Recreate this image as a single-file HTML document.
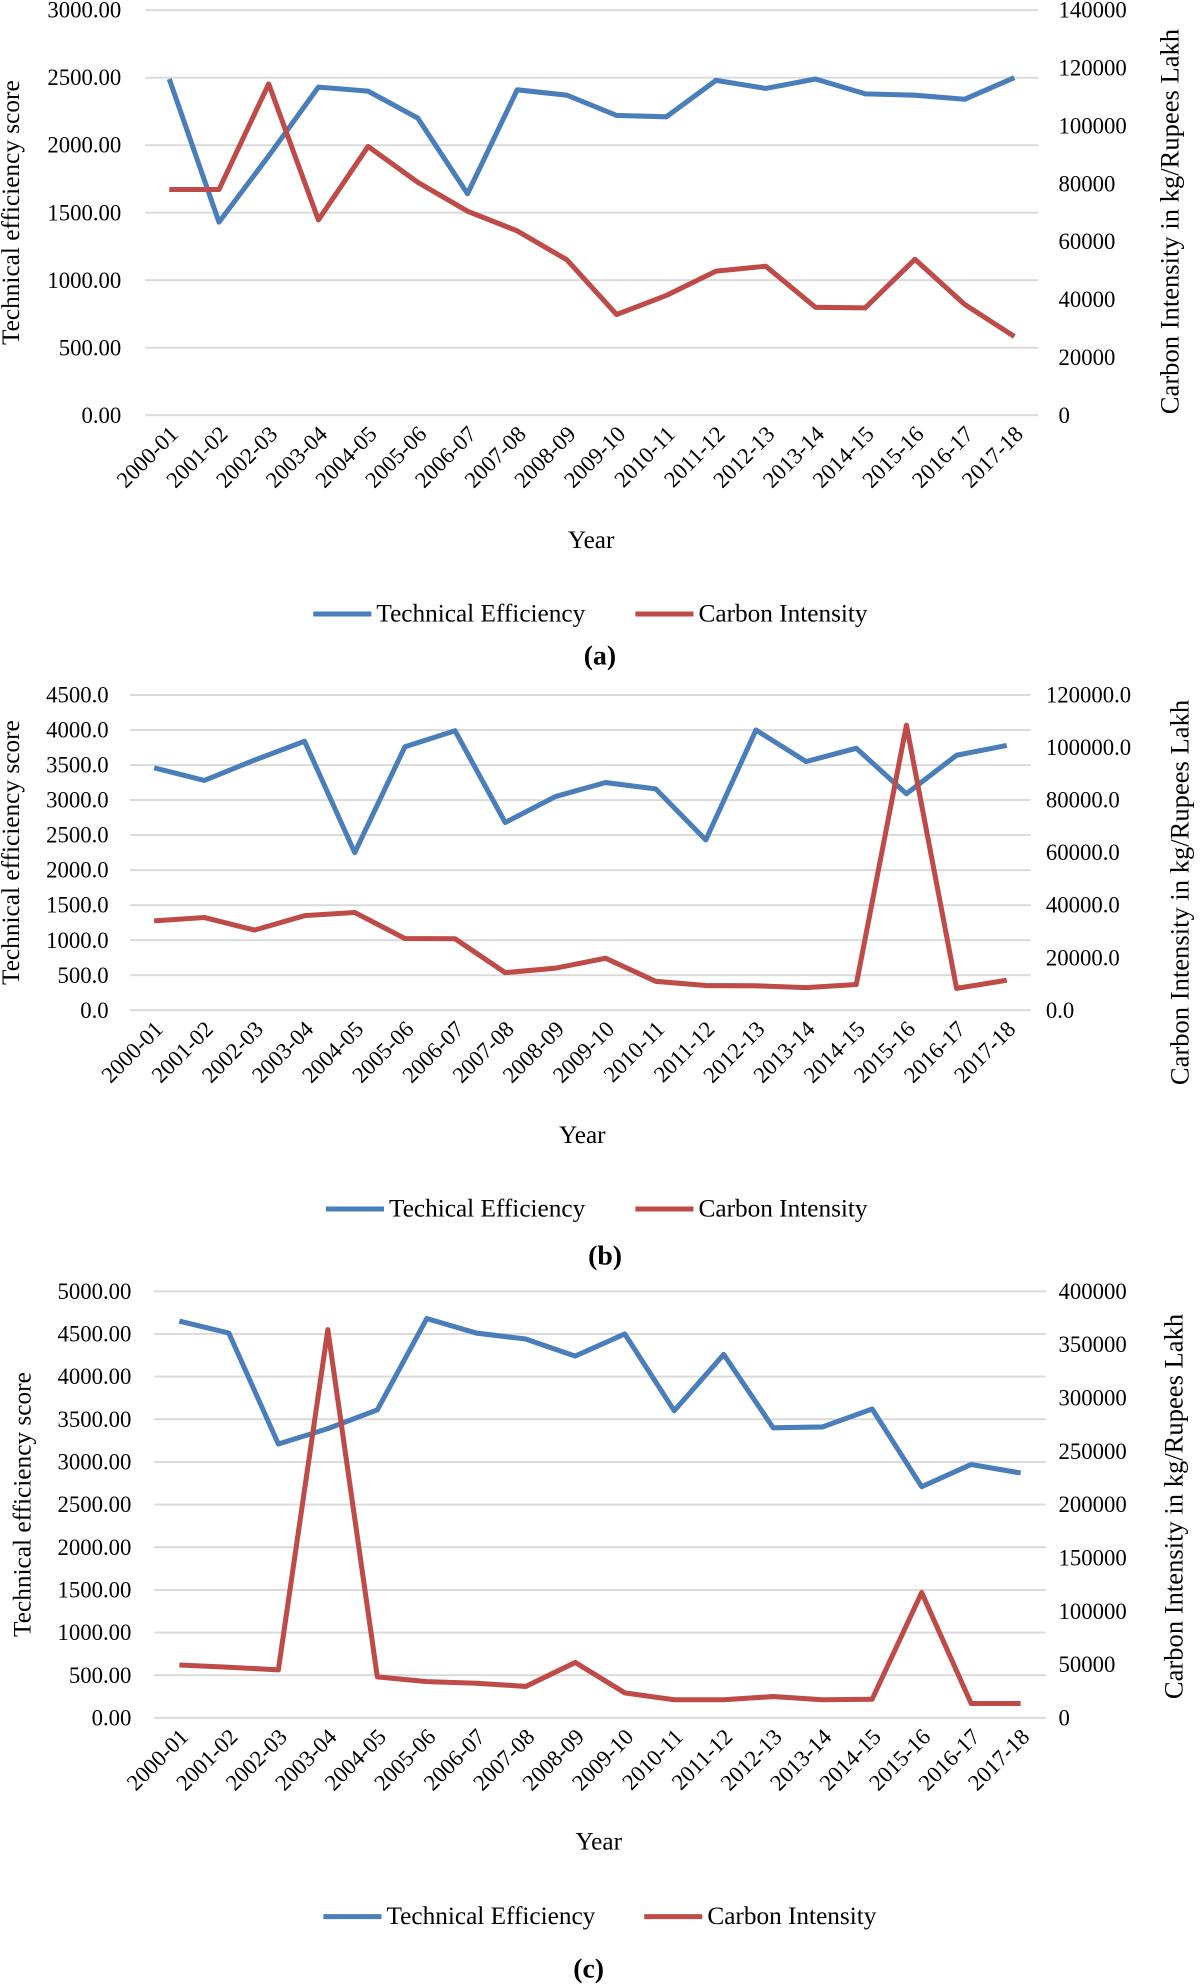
<!DOCTYPE html>
<html><head><meta charset="utf-8"><style>
html,body{margin:0;padding:0;background:#fff;}
svg{display:block;}
text{font-family:"Liberation Serif",serif;fill:#000;}
</style></head><body>
<svg id="fig" width="1200" height="1985" viewBox="0 0 950 1568" preserveAspectRatio="none" xmlns="http://www.w3.org/2000/svg"></svg>
<script>
const years = ["2000-01","2001-02","2002-03","2003-04","2004-05","2005-06","2006-07","2007-08","2008-09","2009-10","2010-11","2011-12","2012-13","2013-14","2014-15","2015-16","2016-17","2017-18"];
const teA = [2490,1430,1920,2430,2400,2200,1640,2410,2370,2220,2210,2480,2420,2490,2380,2370,2340,2500];
const ciA = [78000,78000,114500,67500,92900,80500,70500,63700,53700,34800,41400,49800,51500,37300,37100,53900,38300,27200];
const teB = [3460,3280,3570,3840,2250,3760,3990,2680,3050,3250,3160,2430,4000,3550,3740,3090,3640,3780];
const ciB = [34000,35300,30500,36000,37200,27300,27200,14300,16000,19800,11000,9400,9300,8600,9800,108500,8300,11400];
const teC = [4650,4510,3210,3390,3610,4680,4510,4440,4240,4500,3600,4260,3400,3410,3620,2710,2970,2870];
const ciC = [49600,47500,45000,364000,38500,34000,32500,29500,52000,23500,17000,17000,20000,17000,17500,117500,13500,13500];
const ticksLA = ["0.00","500.00","1000.00","1500.00","2000.00","2500.00","3000.00"];
const ticksRA = ["0","20000","40000","60000","80000","100000","120000","140000"];
const ticksLB = ["0.0","500.0","1000.0","1500.0","2000.0","2500.0","3000.0","3500.0","4000.0","4500.0"];
const ticksRB = ["0.0","20000.0","40000.0","60000.0","80000.0","100000.0","120000.0"];
const ticksLC = ["0.00","500.00","1000.00","1500.00","2000.00","2500.00","3000.00","3500.00","4000.00","4500.00","5000.00"];
const ticksRC = ["0","50000","100000","150000","200000","250000","300000","350000","400000"];

const NS="http://www.w3.org/2000/svg";
const svg=document.getElementById('fig');
function mk(tag,attrs,parent){const e=document.createElementNS(NS,tag);for(const k in attrs)e.setAttribute(k,attrs[k]);(parent||svg).appendChild(e);return e;}

function chart(c){
  const g=mk('g',{});
  
  
  const lMax=parseFloat(c.tl[c.tl.length-1]), rMax=parseFloat(c.tr[c.tr.length-1]);
  const yL=v=>c.y0-(v/lMax)*(c.y0-c.y1);
  const yR=v=>c.y0-(v/rMax)*(c.y0-c.y1);
  const x=i=>c.x0+i*(c.xn-c.x0)/(years.length-1);
  c.tl.forEach(t=>{const v=parseFloat(t);
    const gl=mk('line',{x1:c.gx0,x2:c.gx1,y1:yL(v),y2:yL(v),stroke:'#d9d9d9','stroke-width':1.5},g);
    
    
    const tx=mk('text',{x:c.lx,y:yL(v)+6,'text-anchor':'end','font-size':18},g);tx.textContent=t;
    
    
  });
  c.tr.forEach(t=>{const v=parseFloat(t);
    const tx=mk('text',{x:c.rx,y:yR(v)+6,'font-size':18},g);tx.textContent=t;
    
    
  });
  years.forEach((yr,i)=>{
    const tx=mk('text',{x:0,y:0,'text-anchor':'end','font-size':18,transform:`translate(${x(i)+8},${c.y0+16}) rotate(-45)`},g);tx.textContent=yr;
    
    
  });
  const mid=(c.y0+c.y1)/2;
  let t=mk('text',{x:0,y:0,'text-anchor':'middle','font-size':20,transform:`translate(${c.ltx},${mid}) rotate(-90)`},g);t.textContent='Technical efficiency score';
  
  
  t=mk('text',{x:0,y:0,'text-anchor':'middle','font-size':21,transform:`translate(${c.rtx},${c.rtm}) rotate(-90)`},g);t.textContent='Carbon Intensity in kg/Rupees Lakh';
  
  
  t=mk('text',{x:c.yearX,y:c.yearY,'text-anchor':'middle','font-size':20},g);t.textContent='Year';
  
  
  let p=mk('polyline',{points:c.te.map((v,i)=>x(i)+','+yL(v)).join(' '),fill:'none',stroke:'#4a7ebb','stroke-width':4,'stroke-linejoin':'round'},g);
  
  
  p=mk('polyline',{points:c.ci.map((v,i)=>x(i)+','+yR(v)).join(' '),fill:'none',stroke:'#be4b48','stroke-width':4,'stroke-linejoin':'round'},g);
  
  
  let l=mk('line',{x1:c.legX,x2:c.legX+46,y1:c.legY-6,y2:c.legY-6,stroke:'#4a7ebb','stroke-width':4},g);
  
  
  t=mk('text',{x:c.legX+50,y:c.legY,'font-size':20},g);t.textContent=c.teName;
  
  
  l=mk('line',{x1:c.legX2,x2:c.legX2+46,y1:c.legY-6,y2:c.legY-6,stroke:'#be4b48','stroke-width':4},g);
  
  
  t=mk('text',{x:c.legX2+50,y:c.legY,'font-size':20},g);t.textContent='Carbon Intensity';
  
  
  t=mk('text',{x:c.capX,y:c.capY,'text-anchor':'middle','font-size':22,'font-weight':'bold'},g);t.textContent='('+c.id+')';
  
  
}
chart({id:'a',te:teA,ci:ciA,tl:ticksLA,tr:ticksRA,y0:328,y1:8,x0:134,xn:803,gx0:115,gx1:822,lx:96,rx:838,ltx:15,rtx:933,rtm:175,yearX:468,yearY:433,legX:248,legX2:503,legY:491,teName:'Technical Efficiency',capX:475,capY:525});
chart({id:'b',te:teB,ci:ciB,tl:ticksLB,tr:ticksRB,y0:798,y1:549,x0:122,xn:797,gx0:103,gx1:816,lx:86,rx:828,ltx:15,rtx:941,rtm:705,yearX:461,yearY:903,legX:258,legX2:503,legY:961,teName:'Techical Efficiency',capX:479,capY:999});
chart({id:'c',te:teC,ci:ciC,tl:ticksLC,tr:ticksRC,y0:1357,y1:1020,x0:142,xn:808,gx0:122,gx1:828,lx:104,rx:838,ltx:24,rtx:936,rtm:1190,yearX:474,yearY:1461,legX:256,legX2:510,legY:1520,teName:'Technical Efficiency',capX:466,capY:1562});
</script>
</body></html>
